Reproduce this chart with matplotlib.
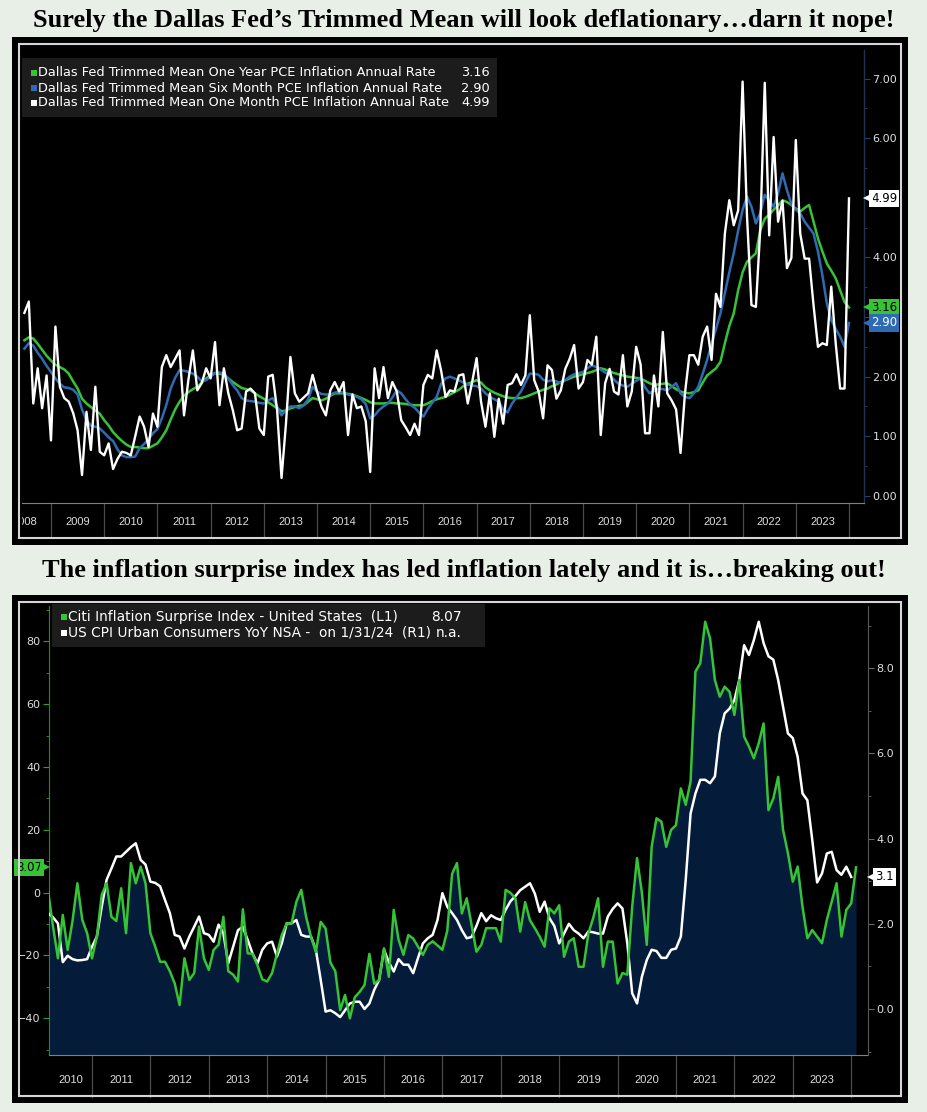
import matplotlib
matplotlib.use("Agg")
import matplotlib.pyplot as plt
from matplotlib.patches import Rectangle
from matplotlib.transforms import Bbox, TransformedBbox, blended_transform_factory
from matplotlib.ticker import MultipleLocator
import numpy as np

# ---- top chart: Dallas Fed trimmed mean PCE, monthly from mid 2008 ----
top_start = 2008.5
one_month = [
    3.07, 3.26, 1.55, 2.14, 1.47, 2.02, 0.93, 2.84, 1.83, 1.64, 1.58, 1.39,
    1.10, 0.35, 1.41, 0.77, 1.83, 0.74, 0.68, 0.88, 0.45, 0.62, 0.74, 0.72,
    0.68, 1.00, 1.33, 1.16, 0.82, 1.38, 1.16, 2.16, 2.36, 2.16, 2.30, 2.44,
    1.35, 1.95, 2.44, 1.77, 1.89, 2.14, 1.97, 2.58, 1.52, 2.14, 1.72, 1.44,
    1.10, 1.13, 1.75, 1.80, 1.72, 1.13, 1.02, 2.00, 2.03, 1.44, 0.30, 1.21,
    2.33, 1.72, 1.58, 1.65, 1.72, 2.03, 1.75, 1.50, 1.35, 1.77, 1.91, 1.75,
    1.91, 1.02, 1.70, 1.47, 1.50, 1.25, 0.40, 2.14, 1.64, 2.16, 1.64, 1.91,
    1.75, 1.27, 1.15, 1.02, 1.21, 1.02, 1.86, 2.03, 1.97, 2.44, 2.10, 1.66,
    1.77, 1.75, 2.02, 2.04, 1.55, 1.91, 2.31, 1.58, 1.16, 1.72, 0.99, 1.63,
    1.21, 1.86, 1.89, 2.04, 1.86, 2.02, 3.03, 1.94, 1.75, 1.30, 2.19, 2.11,
    1.63, 1.77, 2.13, 2.30, 2.53, 1.80, 1.91, 2.28, 2.20, 2.67, 1.02, 1.89,
    2.13, 1.75, 1.70, 2.36, 1.50, 1.75, 2.50, 2.20, 1.05, 1.05, 2.02, 1.50,
    2.75, 1.72, 1.60, 1.45, 0.72, 1.72, 2.36, 2.36, 2.20, 2.67, 2.84, 2.28,
    3.39, 3.17, 4.40, 4.96, 4.54, 4.79, 6.95, 4.68, 3.20, 3.17, 4.50, 6.93,
    4.37, 6.02, 4.60, 4.95, 3.82, 3.99, 5.97, 4.40, 3.98, 3.98, 3.20, 2.50,
    2.56, 2.53, 3.51, 2.56, 1.80, 1.80, 4.99,
]
one_year = [
    2.61, 2.66, 2.64, 2.55, 2.45, 2.35, 2.27, 2.20, 2.16, 2.12, 2.05, 1.92,
    1.80, 1.63, 1.55, 1.49, 1.43, 1.38, 1.27, 1.18, 1.07, 0.99, 0.92, 0.86,
    0.82, 0.82, 0.81, 0.80, 0.80, 0.84, 0.88, 0.98, 1.10, 1.28, 1.45, 1.58,
    1.68, 1.74, 1.79, 1.83, 1.90, 1.97, 2.02, 2.06, 2.05, 2.03, 1.97, 1.91,
    1.86, 1.81, 1.79, 1.77, 1.72, 1.67, 1.63, 1.57, 1.52, 1.47, 1.42, 1.43,
    1.47, 1.49, 1.51, 1.52, 1.58, 1.64, 1.62, 1.60, 1.63, 1.68, 1.72, 1.72,
    1.72, 1.71, 1.70, 1.67, 1.64, 1.61, 1.57, 1.55, 1.55, 1.55, 1.56, 1.56,
    1.55, 1.55, 1.54, 1.53, 1.52, 1.52, 1.52, 1.55, 1.59, 1.62, 1.64, 1.66,
    1.70, 1.74, 1.78, 1.84, 1.88, 1.91, 1.94, 1.90, 1.82, 1.77, 1.73, 1.70,
    1.67, 1.65, 1.64, 1.64, 1.64, 1.66, 1.69, 1.72, 1.75, 1.78, 1.80, 1.84,
    1.87, 1.91, 1.94, 1.97, 2.00, 2.02, 2.04, 2.06, 2.08, 2.11, 2.14, 2.12,
    2.09, 2.06, 2.04, 2.02, 2.00, 1.99, 1.98, 1.97, 1.93, 1.89, 1.86, 1.87,
    1.88, 1.89, 1.84, 1.79, 1.75, 1.73, 1.72, 1.74, 1.77, 1.90, 2.02, 2.08,
    2.14, 2.25, 2.56, 2.85, 3.06, 3.45, 3.75, 3.93, 4.00, 4.07, 4.46, 4.65,
    4.72, 4.80, 4.87, 4.96, 4.93, 4.88, 4.82, 4.77, 4.83, 4.88, 4.60, 4.32,
    4.10, 3.90, 3.78, 3.65, 3.45, 3.25, 3.16,
]
six_month = [
    2.47, 2.56, 2.52, 2.40, 2.30, 2.18, 2.08, 1.97, 1.88, 1.82, 1.81, 1.78,
    1.70, 1.45, 1.27, 1.18, 1.16, 1.13, 1.06, 0.98, 0.92, 0.78, 0.68, 0.65,
    0.65, 0.66, 0.80, 0.87, 0.95, 1.05, 1.12, 1.30, 1.52, 1.80, 1.98, 2.11,
    2.10, 2.08, 2.05, 2.00, 1.92, 1.94, 2.00, 2.06, 2.07, 2.05, 1.97, 1.86,
    1.77, 1.64, 1.60, 1.59, 1.58, 1.56, 1.55, 1.60, 1.64, 1.50, 1.35, 1.44,
    1.50, 1.50, 1.47, 1.52, 1.62, 1.83, 1.75, 1.71, 1.70, 1.70, 1.73, 1.75,
    1.73, 1.70, 1.68, 1.66, 1.62, 1.54, 1.30, 1.35, 1.44, 1.50, 1.55, 1.65,
    1.77, 1.72, 1.62, 1.53, 1.48, 1.40, 1.33, 1.46, 1.56, 1.66, 1.88, 1.97,
    2.00, 1.97, 1.94, 1.90, 1.87, 1.85, 1.84, 1.80, 1.72, 1.66, 1.62, 1.58,
    1.45, 1.40, 1.55, 1.65, 1.75, 1.90, 2.05, 2.05, 2.03, 1.95, 1.92, 1.94,
    1.92, 1.89, 1.94, 2.00, 2.04, 2.06, 2.08, 2.14, 2.19, 2.16, 2.12, 2.07,
    2.03, 1.95, 1.88, 1.85, 1.83, 1.88, 1.93, 1.97, 1.82, 1.72, 1.76, 1.80,
    1.79, 1.77, 1.83, 1.89, 1.72, 1.66, 1.64, 1.72, 1.83, 2.05, 2.28, 2.55,
    2.80, 3.06, 3.40, 3.75, 4.07, 4.45, 4.80, 5.02, 4.85, 4.57, 4.75, 5.05,
    4.95, 4.85, 5.07, 5.41, 5.13, 4.90, 4.80, 4.74, 4.60, 4.50, 4.40, 4.10,
    3.70, 3.23, 2.95, 2.80, 2.67, 2.50, 2.90,
]
top_labels = ["Dallas Fed Trimmed Mean One Year PCE Inflation Annual Rate",
              "Dallas Fed Trimmed Mean Six Month PCE Inflation Annual Rate",
              "Dallas Fed Trimmed Mean One Month PCE Inflation Annual Rate"]
top_last = ["3.16", "2.90", "4.99"]
top_ticks = [0, 1, 2, 3, 4, 5, 6, 7]
top_hidden = [3, 5]   # labels hidden behind the value tags

# ---- bottom chart: Citi inflation surprise vs US CPI YoY, monthly from early 2010 ----
bot_start = 2010.25
cpi_yoy = [
    2.25, 2.15, 2.01, 1.10, 1.25, 1.17, 1.14, 1.15, 1.17, 1.46, 1.70, 2.40,
    3.03, 3.30, 3.58, 3.58, 3.69, 3.80, 3.89, 3.50, 3.39, 2.99, 2.96, 2.88,
    2.56, 2.25, 1.74, 1.70, 1.42, 1.70, 1.93, 2.17, 1.78, 1.74, 1.58, 1.98,
    1.78, 1.07, 1.46, 1.85, 1.93, 1.62, 1.30, 1.07, 1.39, 1.54, 1.58, 1.23,
    1.54, 2.01, 2.01, 2.09, 1.74, 1.70, 1.70, 1.39, 0.68, -0.06, -0.03, -0.10,
    -0.19, -0.03, 0.13, 0.17, 0.17, 0.00, 0.13, 0.45, 0.68, 1.39, 1.10, 0.88,
    1.17, 1.04, 1.04, 0.84, 1.20, 1.54, 1.66, 1.74, 2.09, 2.72, 2.40, 2.25,
    2.09, 1.85, 1.66, 1.69, 1.95, 2.25, 2.06, 2.20, 2.13, 2.09, 2.33, 2.53,
    2.65, 2.79, 2.87, 2.95, 2.71, 2.28, 2.52, 2.13, 1.95, 1.54, 1.77, 2.00,
    1.85, 1.77, 1.66, 1.82, 1.80, 1.77, 1.77, 2.17, 2.35, 2.48, 2.36, 1.54,
    0.37, 0.13, 0.76, 1.15, 1.39, 1.36, 1.20, 1.20, 1.39, 1.42, 1.70, 3.03,
    4.59, 5.06, 5.38, 5.38, 5.30, 5.46, 6.47, 6.94, 7.05, 7.25, 7.72, 8.54,
    8.31, 8.66, 9.09, 8.59, 8.28, 8.20, 7.72, 7.10, 6.47, 6.36, 5.92, 5.06,
    4.90, 3.97, 2.97, 3.18, 3.65, 3.69, 3.26, 3.15, 3.34, 3.10,
]
citi_surprise = [
    0.3, -10.8, -20.9, -7.1, -18.2, -9.0, 3.0, -8.6, -12.9, -20.9, -14.0, -0.7,
    3.0, -7.7, -9.0, 1.4, -12.9, 9.4, 3.0, 8.3, 3.0, -12.9, -17.2, -22.0,
    -22.0, -25.0, -28.9, -35.8, -20.9, -27.8, -25.6, -10.8, -20.9, -24.6, -18.2, -16.6,
    -7.7, -25.0, -26.1, -28.3, -5.3, -19.3, -19.5, -23.1, -27.6, -28.3, -25.6, -19.5,
    -13.5, -9.8, -9.8, -2.9, 0.9, -7.7, -14.0, -18.9, -9.3, -11.4, -22.3, -25.0,
    -37.4, -32.6, -40.0, -33.3, -31.6, -29.4, -19.5, -29.0, -27.8, -17.7, -26.8, -5.5,
    -15.0, -19.8, -13.5, -14.6, -17.2, -19.8, -16.6, -15.5, -16.8, -18.2, -12.2, 6.0,
    9.4, -6.6, -1.8, -10.3, -18.8, -16.6, -11.3, -11.3, -11.3, -15.6, 0.9, -0.1,
    -1.8, -12.4, -3.0, -8.8, -11.3, -14.0, -17.2, -5.0, -6.6, -4.0, -20.4, -15.6,
    -14.5, -23.6, -23.6, -13.0, -8.0, -1.8, -23.6, -15.6, -15.6, -28.9, -25.6, -26.1,
    -4.5, 11.0, -0.1, -16.6, 14.6, 23.7, 22.6, 14.6, 20.0, 21.5, 33.2, 28.0,
    35.4, 70.4, 73.1, 86.3, 81.0, 67.7, 62.4, 65.6, 64.0, 56.6, 67.7, 49.7,
    46.5, 42.8, 47.6, 53.9, 26.3, 30.0, 36.9, 20.0, 12.6, 3.5, 8.3, -4.5,
    -14.5, -11.9, -14.0, -16.1, -8.7, -2.9, 3.0, -14.0, -5.5, -3.4, 8.07,
]
bot_labels = ["Citi Inflation Surprise Index - United States  (L1)",
              "US CPI Urban Consumers YoY NSA -  on 1/31/24  (R1)"]
bot_last = ["8.07", "n.a."]

title_top = "Surely the Dallas Fed\u2019s Trimmed Mean will look deflationary\u2026darn it nope!"
title_bot = "The inflation surprise index has led inflation lately and it is\u2026breaking out!"

# ---- styling ----
W, H = 927, 1112
BG = '#e8efe7'
GREEN = '#36c336'
BLUE = '#2e6bb2'
NAVY = '#041b39'
TXT = '#dedede'
SANS = 'DejaVu Sans'

fig = plt.figure(figsize=(W / 100, H / 100), dpi=100)
fig.patch.set_facecolor(BG)


def fx(x):
    return x / W


def fy(y):
    return 1 - y / H


def axes_px(x0, y0, x1, y1):
    return fig.add_axes([fx(x0), fy(y1), (x1 - x0) / W, (y1 - y0) / H])


def panel(y0, y1):
    fig.add_artist(Rectangle((fx(12), fy(y1)), fx(908) - fx(12), (y1 - y0) / H,
                             transform=fig.transFigure, fc='black', ec='none', zorder=-5))
    fig.add_artist(Rectangle((fx(19), fy(y1 - 7)), fx(901) - fx(19), (y1 - y0 - 14) / H,
                             transform=fig.transFigure, fc='none', ec='#d6d6d6', lw=1.5, zorder=8))


def year_band(ax, box, years, label_y, sep_end, centre_visible):
    x0, y0, x1, y1 = box
    lo, hi = ax.get_xlim()
    tr = blended_transform_factory(ax.transData, ax.transAxes)
    fl = (y1 - label_y) / (y1 - y0)
    fe = (y1 - sep_end) / (y1 - y0)
    clip = TransformedBbox(Bbox.from_extents(fx(x0), 0, fx(x1), 1), fig.transFigure)
    for yr in years + [years[-1] + 1]:
        if lo < yr < hi:
            ax.plot([yr, yr], [0, fe], transform=tr, color='#4a4a4a', lw=0.9, clip_on=False)
    for yr in years:
        if centre_visible:
            xc = (max(yr, lo) + min(yr + 1, hi)) / 2
        else:
            xc = yr + 0.5
        t = ax.text(xc, fl, str(yr), transform=tr, ha='center', va='center',
                    fontsize=8, color=TXT, family='Liberation Sans')
        t.set_clip_box(clip)
        t.set_clip_on(True)


def tag(ax, box, val, text, face, tcolor, side):
    x0, y0, x1, y1 = box
    tr = blended_transform_factory(ax.transAxes, ax.transData)
    if side == 'right':
        xt = (x1 + 7 - x0) / (x1 - x0)
        xa = (x1 + 4 - x0) / (x1 - x0)
        ax.text(xt, val, text, transform=tr, ha='left', va='center', fontsize=8.5,
                color=tcolor, family=SANS, clip_on=False, zorder=20,
                bbox=dict(boxstyle='square,pad=0.18', fc=face, ec='none'))
        ax.plot([xa], [val], marker='<', ms=7, mew=0, color=face, transform=tr,
                clip_on=False, zorder=20)
    else:
        xt = (x0 - 7 - x0) / (x1 - x0)
        xa = (x0 - 4 - x0) / (x1 - x0)
        ax.text(xt, val, text, transform=tr, ha='right', va='center', fontsize=8.5,
                color=tcolor, family=SANS, clip_on=False, zorder=20,
                bbox=dict(boxstyle='square,pad=0.18', fc=face, ec='none'))
        ax.plot([xa], [val], marker='>', ms=7, mew=0, color=face, transform=tr,
                clip_on=False, zorder=20)


def legend_box(x0, y0, x1, y1, rows, colors, values, y_rows, x_val, size):
    fig.add_artist(Rectangle((fx(x0), fy(y1)), fx(x1) - fx(x0), (y1 - y0) / H,
                             transform=fig.transFigure, fc='#1c1c1c', ec='none', zorder=9))
    for lab, col, val, yr in zip(rows, colors, values, y_rows):
        fig.add_artist(Rectangle((fx(x0 + 9), fy(yr + 3)), 6 / W, 6 / H,
                                 transform=fig.transFigure, fc=col, ec='none', zorder=10))
        fig.text(fx(x0 + 16), fy(yr), lab, ha='left', va='center', fontsize=size,
                 color='white', family=SANS, zorder=10)
        fig.text(fx(x_val), fy(yr), val, ha='right', va='center', fontsize=size,
                 color='white', family=SANS, zorder=10)


# ================= top panel =================
fig.text(0.5, fy(20), title_top, ha='center', va='center', fontsize=19,
         fontweight='bold', family='Liberation Serif', color='black')
panel(37, 545)

box1 = (22, 50, 864, 503)
ax1 = axes_px(*box1)
ax1.set_facecolor('black')
t1 = top_start + np.arange(len(one_month)) / 12
t1y = top_start + np.arange(len(one_year)) / 12
t1s = top_start + np.arange(len(six_month)) / 12
ax1.plot(t1y, one_year, color=GREEN, lw=1.8, zorder=3)
ax1.plot(t1s, six_month, color=BLUE, lw=1.8, zorder=4)
ax1.plot(t1, one_month, color='white', lw=1.7, zorder=5)
ax1.set_xlim(2008.455, 2024.282)
ax1.set_ylim(-0.12, 7.48)

for s in ('top', 'left'):
    ax1.spines[s].set_visible(False)
ax1.spines['bottom'].set_color('#808080')
ax1.spines['bottom'].set_linewidth(0.8)
ax1.spines['right'].set_color('#1f3350')
ax1.spines['right'].set_linewidth(1.0)
ax1.yaxis.tick_right()
ax1.set_yticks(top_ticks)
ax1.set_yticklabels(["" if v in top_hidden else f"{v:.2f}" for v in top_ticks])
ax1.yaxis.set_minor_locator(MultipleLocator(0.5))
ax1.tick_params(axis='y', which='major', colors='#2a4466', labelcolor=TXT,
                labelsize=8, length=4, pad=2)
ax1.tick_params(axis='y', which='minor', colors='#2a4466', length=2)
for lab in ax1.get_yticklabels():
    lab.set_family(SANS)
ax1.set_xticks([])

year_band(ax1, box1, list(range(2008, 2024)), 522, 538, False)

legend_box(22, 58, 497, 117, top_labels, [GREEN, BLUE, 'white'], top_last,
           [73, 88, 103], 490, 9.3)

tag(ax1, box1, 4.99, "4.99", 'white', 'black', 'right')
tag(ax1, box1, 3.16, "3.16", GREEN, 'black', 'right')
tag(ax1, box1, 2.90, "2.90", BLUE, 'white', 'right')

# ================= bottom panel =================
fig.text(0.5, fy(571), title_bot, ha='center', va='center', fontsize=19,
         fontweight='bold', family='Liberation Serif', color='black')
panel(595, 1103)

box2 = (49, 606, 868, 1055)
ax2 = axes_px(*box2)
ax2.set_facecolor('black')
t2c = bot_start + np.arange(len(citi_surprise)) / 12
t2p = bot_start + np.arange(len(cpi_yoy)) / 12
ax2.fill_between(t2c, citi_surprise, -60, color=NAVY, lw=0, zorder=1)
ax2.set_xlim(2010.264, 2024.288)
ax2.set_ylim(-51.7, 91.3)

ax2r = ax2.twinx()
ax2r.set_ylim(-1.08, 9.46)
ax2r.plot(t2p, cpi_yoy, color='white', lw=1.8, zorder=3)
# green line drawn on the twin (above the CPI line) but in the left-axis scale
ax2r.plot(t2c, citi_surprise, color=GREEN, lw=1.8, zorder=4, transform=ax2.transData)

for s in ('top', 'right'):
    ax2.spines[s].set_visible(False)
for s in ('top', 'left', 'bottom'):
    ax2r.spines[s].set_visible(False)
ax2.spines['left'].set_color('#1f8f1f')
ax2.spines['bottom'].set_color('#808080')
ax2.spines['bottom'].set_linewidth(0.8)
ax2r.spines['right'].set_color('#5a5a5a')

ax2.set_yticks(np.arange(-40, 81, 20))
ax2.yaxis.set_minor_locator(MultipleLocator(10))
ax2.tick_params(axis='y', which='major', colors='#2aa02a', labelcolor=TXT,
                labelsize=8, length=4, pad=2)
ax2.tick_params(axis='y', which='minor', colors='#2aa02a', length=2)
ax2r.set_yticks(np.arange(0, 9, 2))
ax2r.set_yticklabels([f"{v:.1f}" for v in range(0, 9, 2)])
ax2r.yaxis.set_minor_locator(MultipleLocator(1))
ax2r.tick_params(axis='y', which='major', colors='#6a6a6a', labelcolor=TXT,
                 labelsize=8, length=4, pad=2)
ax2r.tick_params(axis='y', which='minor', colors='#6a6a6a', length=2)
for lab in ax2.get_yticklabels() + ax2r.get_yticklabels():
    lab.set_family(SANS)
ax2.set_xticks([])
ax2r.set_xticks([])

year_band(ax2, box2, list(range(2010, 2024)), 1080, 1097, True)

legend_box(52, 604, 485, 647, bot_labels, [GREEN, 'white'], bot_last,
           [617, 633], 462, 9.9)

tag(ax2r, box2, 3.1, "3.1", 'white', 'black', 'right')
tag(ax2, box2, 8.07, "8.07", GREEN, 'black', 'left')

fig.savefig("out.png", dpi=100, facecolor=BG)
